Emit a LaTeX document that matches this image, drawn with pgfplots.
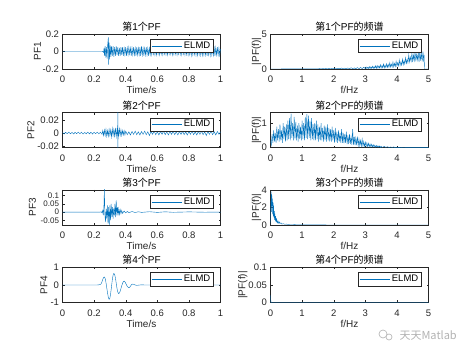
\documentclass[border=0pt]{standalone}
\usepackage{fontspec}
\setmainfont{Liberation Sans}
\newfontfamily\cjk{Noto Sans CJK SC}
\usepackage{pgfplots}
\pgfplotsset{compat=1.18}
\definecolor{mblue}{RGB}{0,114,189}
\definecolor{axgray}{RGB}{38,38,38}
\pgfplotsset{
 mstyle/.style={
  scale only axis, width=158pt, height=35pt, anchor=north west,
  font=\fontsize{10}{12}\selectfont,
  scaled ticks=false,
  tick align=inside, major tick length=2pt,
  axis line style={axgray, line width=0.4pt},
  tick style={axgray, line width=0.4pt},
  ticklabel style={text=axgray, font=\fontsize{9.5}{11}\selectfont},
  xticklabel style={yshift=-3.5pt},
  title style={anchor=center, yshift=1.5pt, text=black},
  xlabel style={at={(axis description cs:0.5,0)}, anchor=center, yshift=-21pt, text=axgray},
  legend style={at={(1,1)}, anchor=north east, xshift=-7pt, yshift=-5pt, draw=axgray, line width=0.4pt, fill=white, inner xsep=1pt, inner ysep=0.5pt, font=\fontsize{9.5}{11}\selectfont, text=black},
  legend image code/.code={\draw[#1] (0pt,0pt) -- (30pt,0pt);},
  cycle list={{mblue, line width=0.6pt, no marks}},
 },
 lcol/.style={mstyle, xmin=0, xmax=1, xtick={0,0.2,0.4,0.6,0.8,1}, xticklabels={0,0.2,0.4,0.6,0.8,1}, xlabel={Time/s}},
 rcol/.style={mstyle, xmin=0, xmax=5, xtick={0,1,2,3,4,5}, xticklabels={0,1,2,3,4,5}, xlabel={f/Hz}},
 ylab/.style={ylabel style={at={(axis description cs:#1,0.5)}, anchor=center, text=axgray}},
}
\newcommand{\xsc}{\node[anchor=north east, font=\fontsize{8.5}{10}\selectfont, text=axgray] at (rel axis cs:1,0) [yshift=-14pt] {×10\textsuperscript{-5}};}
\newcommand{\ysc}[1]{\node[anchor=south west, font=\fontsize{8.5}{10}\selectfont, text=axgray] at (rel axis cs:0,1) [yshift=-1pt] {×10\textsuperscript{#1}};}

\pgfplotstableread{
t y
0 0
0.25 0
0.255 0.002
0.26 -0.01
0.263 0.04
0.266 -0.05
0.27 0.06
0.274 -0.07
0.278 0.05
0.282 -0.08
0.286 0.08
0.29 0.16
0.292 -0.15
0.295 0.10
0.298 -0.09
0.302 0.07
0.306 -0.06
0.31 0.06
0.315 -0.05
0.32 0.06
0.325 -0.06
0.33 0.05
0.335 -0.05
0.34 0.06
0.345 -0.04
0.35 0.05
0.355 -0.05
0.36 0.04
0.365 -0.05
0.37 0.05
0.375 -0.04
0.38 0.05
0.385 -0.05
0.39 0.04
0.395 -0.04
0.40 0.05
0.405 -0.05
0.41 0.04
0.415 -0.04
0.42 0.05
0.425 -0.03
0.43 0.04
0.435 -0.05
0.44 0.04
0.445 -0.04
0.45 0.05
0.455 -0.04
0.46 0.04
0.465 -0.05
0.47 0.05
0.475 -0.04
0.48 0.04
0.485 -0.04
0.49 0.05
0.495 -0.05
0.50 0.06
0.505 -0.04
0.51 0.04
0.515 -0.05
0.52 0.04
0.525 -0.04
0.53 0.05
0.535 -0.04
0.54 0.04
0.545 -0.05
0.55 0.04
0.555 -0.04
0.56 0.03
0.565 -0.04
0.57 0.04
0.575 -0.03
0.58 0.05
0.585 -0.04
0.59 0.03
0.595 -0.04
0.60 0.04
0.605 -0.03
0.61 0.03
0.615 -0.04
0.62 0.04
0.625 -0.03
0.63 0.03
0.635 -0.04
0.64 0.035
0.645 -0.03
0.65 0.04
0.655 -0.035
0.66 0.03
0.665 -0.04
0.67 0.03
0.675 -0.03
0.68 0.04
0.685 -0.03
0.69 0.035
0.695 -0.04
0.70 0.03
0.705 -0.035
0.71 0.04
0.715 -0.03
0.72 0.03
0.725 -0.04
0.73 0.035
0.735 -0.03
0.74 0.04
0.745 -0.035
0.75 0.03
0.755 -0.04
0.76 0.04
0.765 -0.03
0.77 0.035
0.775 -0.04
0.78 0.03
0.785 -0.035
0.79 0.04
0.795 -0.04
0.80 0.045
0.805 -0.035
0.81 0.04
0.815 -0.045
0.82 0.035
0.825 -0.04
0.83 0.04
0.835 -0.035
0.84 0.045
0.845 -0.04
0.85 0.035
0.855 -0.045
0.86 0.04
0.865 -0.035
0.87 0.045
0.875 -0.04
0.88 0.04
0.885 -0.045
0.89 0.035
0.895 -0.04
0.90 0.045
0.905 -0.04
0.91 0.04
0.915 -0.05
0.92 0.045
0.925 -0.04
0.93 0.04
0.935 -0.045
0.94 0.05
0.945 -0.04
0.95 0.045
0.955 -0.045
0.96 0.04
0.965 -0.05
0.97 0.045
0.975 -0.04
0.98 0.05
0.985 -0.045
0.99 0.04
0.995 -0.045
1.0 0.03
}\pfone

\pgfplotstableread{
t y
0 0.001
0.01 -0.0015
0.02 0.0012
0.03 -0.001
0.04 0.0015
0.05 -0.0012
0.06 0.001
0.07 -0.0015
0.08 0.0012
0.09 -0.001
0.10 0.0015
0.11 -0.0012
0.12 0.0013
0.13 -0.0015
0.14 0.001
0.15 -0.0012
0.16 0.0015
0.17 -0.0013
0.18 0.0012
0.19 -0.0015
0.20 0.0013
0.21 -0.001
0.22 0.0015
0.23 -0.0012
0.24 0.0014
0.25 -0.002
0.255 0.004
0.26 -0.004
0.265 0.005
0.27 -0.004
0.275 0.006
0.28 -0.005
0.285 0.004
0.29 -0.005
0.295 0.006
0.30 -0.004
0.305 0.005
0.31 -0.006
0.315 0.007
0.32 -0.004
0.325 0.006
0.33 -0.005
0.335 0.008
0.34 -0.006
0.345 0.005
0.349 -0.004
0.350 0.04
0.351 -0.03
0.352 0.005
0.355 -0.005
0.36 0.007
0.365 -0.004
0.37 0.005
0.375 -0.004
0.38 0.004
0.385 -0.003
0.39 0.004
0.395 -0.003
0.40 0.003
0.41 -0.0025
0.42 0.002
0.43 -0.003
0.44 0.0025
0.45 -0.002
0.46 0.003
0.47 -0.0025
0.48 0.002
0.49 -0.003
0.50 0.0025
0.51 -0.002
0.52 0.003
0.53 -0.0025
0.54 0.002
0.55 -0.004
0.56 0.0025
0.57 -0.002
0.58 0.003
0.59 -0.0025
0.60 0.002
0.61 -0.003
0.62 0.0025
0.63 -0.002
0.64 0.003
0.65 -0.0025
0.66 0.002
0.67 -0.003
0.68 0.0025
0.69 -0.002
0.70 0.003
0.71 -0.0025
0.72 0.002
0.73 -0.003
0.74 0.0025
0.75 -0.002
0.76 0.003
0.77 -0.0025
0.78 0.002
0.79 -0.003
0.80 0.0025
0.81 -0.002
0.82 0.003
0.83 -0.0025
0.84 0.002
0.85 -0.003
0.86 0.0025
0.87 -0.002
0.88 0.003
0.89 -0.0025
0.90 0.002
0.91 -0.004
0.92 0.0025
0.93 -0.002
0.94 0.003
0.95 -0.0025
0.96 0.002
0.97 -0.003
0.98 0.0025
0.99 -0.002
1.0 0.002
}\pftwo

\pgfplotstableread{
t y
0 0
0.24 0
0.245 0.002
0.25 -0.005
0.255 0.01
0.258 -0.02
0.262 0.03
0.265 0.14
0.268 -0.01
0.272 -0.06
0.276 0.02
0.28 -0.04
0.284 0.04
0.288 -0.07
0.292 0.03
0.296 -0.08
0.30 0.04
0.304 -0.05
0.308 0.05
0.312 -0.03
0.316 0.03
0.32 -0.04
0.324 0.02
0.328 -0.02
0.332 0.05
0.336 -0.03
0.34 0.07
0.344 -0.02
0.348 0.03
0.352 -0.02
0.356 0.02
0.36 -0.015
0.365 0.015
0.37 -0.01
0.375 0.01
0.38 -0.008
0.39 0.006
0.40 -0.005
0.41 0.004
0.42 -0.004
0.44 0.003
0.46 -0.003
0.48 0.002
0.50 -0.002
0.55 0.002
0.60 -0.002
0.65 0.0015
0.70 -0.0015
0.80 0.001
0.90 -0.001
1.0 0
}\pfthree

\pgfplotstableread{
t y
0 0
0.22 0
0.23 0.01
0.24 0.03
0.245 0.08
0.25 0.18
0.255 0.32
0.26 0.43
0.265 0.46
0.27 0.38
0.275 0.15
0.28 -0.15
0.285 -0.45
0.29 -0.70
0.295 -0.82
0.30 -0.75
0.305 -0.48
0.31 -0.10
0.315 0.28
0.32 0.56
0.325 0.66
0.33 0.60
0.335 0.40
0.34 0.10
0.345 -0.20
0.35 -0.40
0.355 -0.49
0.36 -0.46
0.365 -0.36
0.37 -0.20
0.375 -0.04
0.38 0.10
0.385 0.19
0.39 0.22
0.395 0.18
0.40 0.10
0.405 0.01
0.41 -0.08
0.415 -0.13
0.42 -0.15
0.425 -0.13
0.43 -0.07
0.435 0.0
0.44 0.04
0.445 0.05
0.45 0.04
0.46 0.0
0.47 -0.02
0.48 -0.01
0.50 0.01
0.52 0
1 0
}\pffour

\pgfplotstableread{
f a
0 0
0.5 0.01
1.0 0.01
1.5 0.02
1.55 0.06
1.6 0.01
1.65 0.08
1.7 0.02
1.75 0.07
1.8 0.01
1.85 0.1
1.9 0.02
1.95 0.09
2.0 0.03
2.05 0.12
2.1 0.02
2.15 0.1
2.2 0.03
2.25 0.14
2.3 0.02
2.35 0.12
2.4 0.04
2.45 0.15
2.5 0.03
2.55 0.18
2.6 0.05
2.65 0.15
2.7 0.04
2.75 0.2
2.8 0.05
2.85 0.22
2.9 0.06
2.95 0.25
3.0 0.05
3.025 0.3
3.05 0.06
3.075 0.25
3.1 0.08
3.125 0.35
3.15 0.07
3.175 0.3
3.2 0.1
3.225 0.4
3.25 0.08
3.275 0.35
3.3 0.12
3.325 0.45
3.35 0.1
3.375 0.5
3.4 0.12
3.425 0.42
3.45 0.15
3.475 0.6
3.5 0.14
3.525 0.5
3.55 0.18
3.575 0.7
3.6 0.16
3.625 0.55
3.65 0.2
3.675 0.75
3.7 0.22
3.725 0.65
3.75 0.25
3.775 0.9
3.8 0.28
3.825 0.7
3.85 0.3
3.875 1.0
3.9 0.3
3.925 0.8
3.95 0.35
3.975 1.1
4.0 0.4
4.025 0.9
4.05 0.45
4.075 1.3
4.1 0.5
4.125 1.0
4.15 0.55
4.175 1.4
4.2 0.6
4.225 1.2
4.25 0.7
4.275 1.6
4.3 0.8
4.325 1.4
4.35 0.9
4.375 2.0
4.4 1.0
4.425 1.7
4.45 1.1
4.475 2.3
4.5 1.0
4.525 2.0
4.55 1.2
4.575 2.5
4.6 1.1
4.625 2.1
4.65 1.3
4.675 2.4
4.7 1.0
4.725 2.6
4.75 1.2
4.775 2.2
4.8 1.1
4.825 2.5
4.85 1.0
4.86 2.0
4.87 0.5
4.875 0
5 0
}\spone

\pgfplotstableread{
f a
0.00 0.30
0.025 0.10
0.05 0.55
0.075 0.20
0.10 0.70
0.125 0.25
0.15 0.60
0.175 0.20
0.20 0.85
0.225 0.30
0.25 0.75
0.275 0.25
0.30 0.95
0.325 0.30
0.35 0.70
0.375 0.20
0.40 1.00
0.425 0.35
0.45 0.85
0.475 0.25
0.50 0.95
0.525 0.30
0.55 1.10
0.575 0.35
0.60 1.20
0.625 0.30
0.65 1.38
0.675 0.40
0.70 1.00
0.725 0.30
0.75 1.25
0.775 0.35
0.80 1.05
0.825 0.30
0.85 0.90
0.875 0.25
0.90 1.00
0.925 0.35
0.95 0.85
0.975 0.30
1.00 1.10
1.025 0.35
1.05 1.00
1.075 0.30
1.10 1.25
1.125 0.40
1.15 1.36
1.175 0.35
1.20 1.30
1.225 0.40
1.25 1.10
1.275 0.30
1.30 1.20
1.325 0.35
1.35 0.95
1.375 0.30
1.40 1.00
1.425 0.30
1.45 1.10
1.475 0.35
1.50 0.95
1.525 0.25
1.55 0.85
1.575 0.30
1.60 1.00
1.625 0.30
1.65 0.80
1.675 0.25
1.70 0.90
1.725 0.30
1.75 0.85
1.775 0.25
1.80 0.95
1.825 0.30
1.85 0.80
1.875 0.25
1.90 0.75
1.925 0.25
1.95 0.85
1.975 0.30
2.00 0.70
2.025 0.20
2.05 0.80
2.075 0.25
2.10 0.65
2.125 0.20
2.15 0.70
2.175 0.25
2.20 0.60
2.225 0.20
2.25 0.75
2.275 0.20
2.30 0.60
2.325 0.18
2.35 0.55
2.375 0.20
2.40 0.65
2.425 0.15
2.45 0.50
2.475 0.15
2.50 0.55
2.525 0.15
2.55 0.45
2.575 0.12
2.60 0.75
2.625 0.12
2.65 0.45
2.675 0.10
2.70 0.40
2.725 0.10
2.75 0.45
2.775 0.08
2.80 0.35
2.825 0.08
2.85 0.30
2.875 0.06
2.90 0.35
2.925 0.06
2.95 0.25
2.975 0.05
3.00 0.22
3.025 0.05
3.05 0.20
3.075 0.04
3.10 0.18
3.125 0.04
3.15 0.15
3.175 0.03
3.20 0.14
3.225 0.03
3.25 0.12
3.275 0.03
3.30 0.10
3.325 0.02
3.35 0.09
3.375 0.02
3.40 0.08
3.425 0.02
3.45 0.07
3.475 0.01
3.50 0.06
3.525 0.01
3.60 0.05
3.65 0.01
3.70 0.04
3.75 0.01
3.80 0.03
3.85 0.01
3.90 0.03
3.95 0.00
4.00 0.02
4.05 0
4.10 0.015
4.15 0
4.20 0.01
4.30 0
5 0
}\sptwo

\pgfplotstableread{
f a
0 0
0.01 2.0
0.02 3.8
0.03 1.5
0.04 3.5
0.05 2.2
0.06 3.0
0.07 1.2
0.08 2.6
0.09 1.0
0.10 2.2
0.11 0.8
0.12 1.6
0.13 0.6
0.14 1.3
0.15 0.5
0.16 1.0
0.17 0.4
0.18 0.8
0.19 0.3
0.20 0.6
0.22 0.25
0.24 0.45
0.26 0.2
0.28 0.35
0.30 0.15
0.33 0.25
0.36 0.1
0.40 0.15
0.45 0.08
0.50 0.1
0.60 0.05
0.70 0.06
0.80 0.03
1.0 0.02
1.5 0.01
2.0 0
5 0
}\spthree

\pgfplotstableread{
f a
0 0
0.005 0.02
0.01 0.004
0.02 0.001
0.05 0
5 0
}\spfour

\begin{document}
\begin{tikzpicture}
\path[use as bounding box] (0pt,0pt) rectangle (474pt,355pt);

% Row 1
\begin{axis}[lcol, at={(62.5pt,321pt)}, ymin=-0.2, ymax=0.2, ytick={-0.2,0,0.2}, yticklabels={-0.2,0,0.2},
  ylabel={PF1}, ylab=-0.158, title={{\cjk 第}1{\cjk 个}PF}]
\addplot table[x=t,y=y] {\pfone};
\addlegendentry{ELMD}
\end{axis}
\begin{axis}[rcol, at={(270.5pt,321pt)}, ymin=0, ymax=5, ytick={0,5}, yticklabels={0,5},
  ylabel={|PF(f)|}, ylab=-0.089, title={{\cjk 第}1{\cjk 个}PF{\cjk 的频谱}}]
\addplot table[x=f,y=a] {\spone};
\addlegendentry{ELMD}
\ysc{-3}
\xsc
\end{axis}

% Row 2
\begin{axis}[lcol, at={(62.5pt,242.3pt)}, ymin=-0.023, ymax=0.032, ytick={-0.02,0,0.02}, yticklabels={-0.02,0,0.02},
  ylabel={PF2}, ylab=-0.2, title={{\cjk 第}2{\cjk 个}PF}]
\addplot table[x=t,y=y] {\pftwo};
\addlegendentry{ELMD}
\end{axis}
\begin{axis}[rcol, at={(270.5pt,242.3pt)}, ymin=0, ymax=1.42, ytick={0,1}, yticklabels={0,1},
  ylabel={|PF(f)|}, ylab=-0.089, title={{\cjk 第}2{\cjk 个}PF{\cjk 的频谱}}]
\addplot table[x=f,y=a] {\sptwo};
\addlegendentry{ELMD}
\ysc{-4}
\xsc
\end{axis}

% Row 3
\begin{axis}[lcol, at={(62.5pt,165pt)}, ymin=-0.078, ymax=0.133, ytick={-0.05,0,0.05,0.1}, yticklabels={-0.05,0,0.05,0.1},
  yticklabel style={font=\fontsize{8}{8}\selectfont, inner ysep=0.5pt},
  ylabel={PF3}, ylab=-0.19, title={{\cjk 第}3{\cjk 个}PF}]
\addplot table[x=t,y=y] {\pfthree};
\addlegendentry{ELMD}
\end{axis}
\begin{axis}[rcol, at={(270.5pt,165pt)}, ymin=0, ymax=4, ytick={0,2,4}, yticklabels={0,2,4},
  ylabel={|PF(f)|}, ylab=-0.089, title={{\cjk 第}3{\cjk 个}PF{\cjk 的频谱}}]
\addplot table[x=f,y=a] {\spthree};
\addlegendentry{ELMD}
\ysc{-3}
\xsc
\end{axis}

% Row 4
\begin{axis}[lcol, at={(62.5pt,87.5pt)}, ymin=-1, ymax=1, ytick={-1,0,1}, yticklabels={-1,0,1},
  ylabel={PF4}, ylab=-0.117, title={{\cjk 第}4{\cjk 个}PF}]
\addplot table[x=t,y=y] {\pffour};
\addlegendentry{ELMD}
\end{axis}
\begin{axis}[rcol, at={(270.5pt,87.5pt)}, ymin=0, ymax=0.1, ytick={0,0.05,0.1}, yticklabels={0,0.05,0.1},
  ylabel={|PF(f)|}, ylab=-0.175, title={{\cjk 第}4{\cjk 个}PF{\cjk 的频谱}}]
\addplot table[x=f,y=a] {\spfour};
\addlegendentry{ELMD}
\xsc
\end{axis}

% watermark
\draw[gray!55, line width=0.7pt] (383pt,21pt) circle (4pt);
\draw[gray!55, line width=0.7pt] (389pt,18pt) circle (3pt);
\node[text=gray!60, font=\cjk\fontsize{11}{12}\selectfont, anchor=west] at (396pt,19.5pt) {天天Matlab};
\end{tikzpicture}
\end{document}
